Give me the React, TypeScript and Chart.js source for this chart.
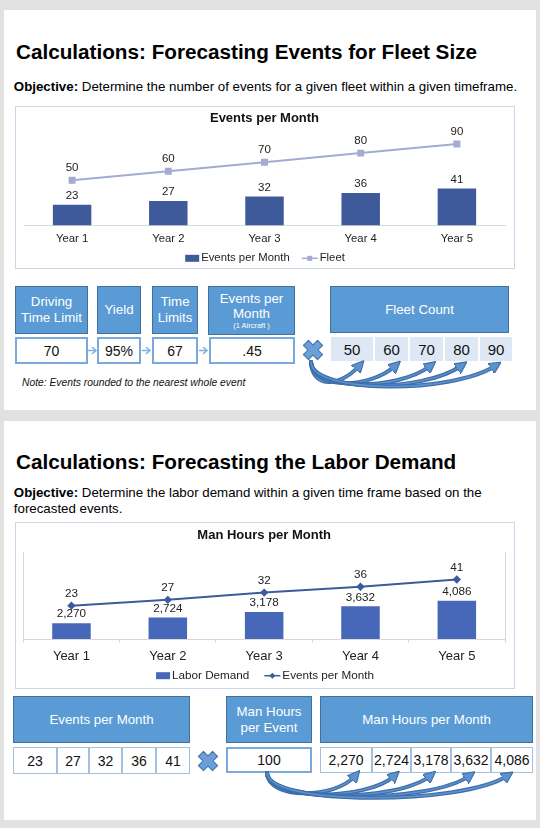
import React, { useEffect, useRef } from 'react';
import { Chart, registerables } from 'chart.js';

Chart.register(...registerables);

const FONT = '"Liberation Sans", Arial, Helvetica, sans-serif';

// ---------------- data ----------------
const years = ['Year 1', 'Year 2', 'Year 3', 'Year 4', 'Year 5'];
const eventsPerMonth = [23, 27, 32, 36, 41];
const fleetSize = [50, 60, 70, 80, 90];
const laborDemand = [2270, 2724, 3178, 3632, 4086];
const drivingTimeLimit = '70';
const yieldPct = '95%';
const timeLimits = '67';
const eventsPerAircraft = '.45';
const manHoursPerEvent = '100';

const fmt = (v: number) => v.toLocaleString('en-US');

// ---------------- plugins ----------------
const valueLabelPlugin = {
  id: 'valueLabels',
  afterDatasetsDraw(chart: any) {
    const ctx = chart.ctx;
    chart.data.datasets.forEach((ds: any, i: number) => {
      const meta = chart.getDatasetMeta(i);
      const o = ds.valueLabel;
      if (!o || meta.hidden) return;
      ctx.save();
      ctx.font = `${o.size}px ${FONT}`;
      ctx.fillStyle = '#222';
      ctx.textAlign = 'center';
      ctx.textBaseline = 'middle';
      meta.data.forEach((el: any, j: number) => {
        ctx.fillText(fmt(ds.data[j]), el.x, el.y - o.offset);
      });
      ctx.restore();
    });
  },
};

type LegendItem = { kind: 'bar' | 'line'; color: string; text: string; marker?: 'rect' | 'diamond' };

function makeLegendPlugin(items: LegendItem[], centerY: number, size: number, itemGap: number) {
  return {
    id: 'swatchLegend',
    afterDraw(chart: any) {
      const ctx = chart.ctx;
      ctx.save();
      ctx.font = `${size}px ${FONT}`;
      const parts = items.map((it) => ({ it, sw: it.kind === 'bar' ? 14 : 16, tw: ctx.measureText(it.text).width }));
      const gap = 2;
      const total = parts.reduce((s, p) => s + p.sw + gap + p.tw, 0) + itemGap * (parts.length - 1);
      let x = chart.width / 2 - total / 2;
      parts.forEach(({ it, sw, tw }) => {
        if (it.kind === 'bar') {
          ctx.fillStyle = it.color;
          ctx.fillRect(x, centerY - 3.5, sw, 7);
        } else {
          ctx.strokeStyle = it.color;
          ctx.lineWidth = 1.5;
          ctx.beginPath();
          ctx.moveTo(x, centerY);
          ctx.lineTo(x + sw, centerY);
          ctx.stroke();
          ctx.fillStyle = it.color;
          const cx = x + sw / 2;
          if (it.marker === 'rect') {
            ctx.fillRect(cx - 2.5, centerY - 2.5, 5, 5);
          } else {
            ctx.beginPath();
            ctx.moveTo(cx, centerY - 3);
            ctx.lineTo(cx + 3, centerY);
            ctx.lineTo(cx, centerY + 3);
            ctx.lineTo(cx - 3, centerY);
            ctx.closePath();
            ctx.fill();
          }
        }
        ctx.fillStyle = '#222';
        ctx.textAlign = 'left';
        ctx.textBaseline = 'middle';
        ctx.fillText(it.text, x + sw + gap, centerY);
        x += sw + gap + tw + itemGap;
      });
      ctx.restore();
    },
  };
}

// ---------------- chart configs ----------------
function fleetChartConfig(): any {
  return {
    type: 'bar',
    data: {
      labels: years,
      datasets: [
        {
          type: 'line',
          label: 'Fleet',
          data: fleetSize,
          borderColor: '#a3abd2',
          backgroundColor: '#a3abd2',
          borderWidth: 2,
          pointStyle: 'rect',
          pointRadius: 3.5,
          pointHoverRadius: 3.5,
          order: 0,
          valueLabel: { offset: 12, size: 11.5 },
        },
        {
          type: 'bar',
          label: 'Events per Month',
          data: eventsPerMonth,
          backgroundColor: '#3f5a9b',
          barPercentage: 0.4,
          categoryPercentage: 1,
          order: 1,
          valueLabel: { offset: 9, size: 11.5 },
        },
      ],
    },
    options: {
      animation: false,
      responsive: false,
      events: [],
      layout: { padding: { left: 8, right: 9, top: 0, bottom: 15.9 } },
      plugins: {
        legend: { display: false },
        tooltip: { enabled: false },
        title: {
          display: true,
          text: 'Events per Month',
          color: '#111',
          font: { family: FONT, size: 13, weight: 'bold' },
          padding: { top: 3.5, bottom: 8.9 },
        },
      },
      scales: {
        x: {
          grid: { display: false, drawTicks: false },
          border: { display: true, color: '#d9d9d9', width: 1 },
          ticks: { color: '#222', font: { family: FONT, size: 11.3 }, padding: 6.5 },
        },
        y: { display: false, min: 0, max: 100 },
      },
    },
    plugins: [
      valueLabelPlugin,
      makeLegendPlugin(
        [
          { kind: 'bar', color: '#3f5a9b', text: 'Events per Month' },
          { kind: 'line', color: '#a3abd2', text: 'Fleet', marker: 'rect' },
        ],
        151.3,
        11.3,
        12
      ),
    ],
  };
}

function laborChartConfig(): any {
  return {
    type: 'bar',
    data: {
      labels: years,
      datasets: [
        {
          type: 'line',
          label: 'Events per Month',
          data: eventsPerMonth,
          yAxisID: 'y1',
          borderColor: '#3d5b9a',
          backgroundColor: '#3d5b9a',
          borderWidth: 2,
          pointStyle: 'rectRot',
          pointRadius: 2.8,
          pointHoverRadius: 2.8,
          order: 0,
          valueLabel: { offset: 11.7, size: 11.7 },
        },
        {
          type: 'bar',
          label: 'Labor Demand',
          data: laborDemand,
          yAxisID: 'y',
          backgroundColor: '#4768b8',
          barPercentage: 0.4,
          categoryPercentage: 1,
          order: 1,
          valueLabel: { offset: 9, size: 11.7 },
        },
      ],
    },
    options: {
      animation: false,
      responsive: false,
      events: [],
      layout: { padding: { left: 7.3, right: 9, top: 0, bottom: 18.4 } },
      plugins: {
        legend: { display: false },
        tooltip: { enabled: false },
        title: {
          display: true,
          text: 'Man Hours per Month',
          color: '#111',
          font: { family: FONT, size: 13, weight: 'bold' },
          padding: { top: 4.9, bottom: 8.5 },
        },
      },
      scales: {
        x: {
          grid: { display: true, drawOnChartArea: false, drawTicks: true, tickLength: 4, color: '#d9d9d9', offset: true },
          border: { display: true, color: '#d9d9d9', width: 1 },
          ticks: { color: '#222', font: { family: FONT, size: 13 }, padding: 5.5 },
        },
        y: {
          position: 'left',
          min: 1000,
          max: 8000,
          ticks: { display: false },
          grid: { display: false, drawTicks: false },
          border: { display: true, color: '#d9d9d9', width: 1 },
        },
        y1: {
          position: 'right',
          min: 0,
          max: 60,
          ticks: { display: false },
          grid: { display: false, drawTicks: false },
          border: { display: true, color: '#d9d9d9', width: 1 },
        },
      },
    },
    plugins: [
      valueLabelPlugin,
      makeLegendPlugin(
        [
          { kind: 'bar', color: '#4768b8', text: 'Labor Demand' },
          { kind: 'line', color: '#3d5b9a', text: 'Events per Month', marker: 'diamond' },
        ],
        152.7,
        11.7,
        15
      ),
    ],
  };
}

function ChartCanvas({ make, width, height }: { make: () => any; width: number; height: number }) {
  const ref = useRef<HTMLCanvasElement>(null);
  useEffect(() => {
    const chart = new Chart(ref.current as HTMLCanvasElement, make());
    return () => chart.destroy();
  }, []);
  return <canvas ref={ref} width={width} height={height} style={{ display: 'block', width, height }} />;
}

// ---------------- layout helpers ----------------
const abs = (x: number, y: number, w: number, h: number): React.CSSProperties => ({
  position: 'absolute',
  left: x,
  top: y,
  width: w,
  height: h,
  boxSizing: 'border-box',
});

function Header({ x, y, w, h, children }: { x: number; y: number; w: number; h: number; children: React.ReactNode }) {
  return (
    <div
      style={{
        ...abs(x, y, w, h),
        background: '#5b9bd5',
        border: '1.5px solid #41719c',
        color: '#fff',
        fontSize: 13.3,
        lineHeight: '16px',
        display: 'flex',
        flexDirection: 'column',
        alignItems: 'center',
        justifyContent: 'center',
        textAlign: 'center',
      }}
    >
      {children}
    </div>
  );
}

function ValueBox({ x, y, w, h, text }: { x: number; y: number; w: number; h: number; text: string }) {
  return (
    <div
      style={{
        ...abs(x, y, w, h),
        background: '#fff',
        border: '2px solid #7aa9db',
        color: '#111',
        fontSize: 14,
        display: 'flex',
        alignItems: 'center',
        justifyContent: 'center',
      }}
    >
      {text}
    </div>
  );
}

function CellRow({ edges, y, h, values, fill, border, fontSize }: { edges: number[]; y: number; h: number; values: string[]; fill: string; border: string; fontSize: number }) {
  return (
    <>
      {values.map((v, i) => (
        <div
          key={i}
          style={{
            ...abs(edges[i], y, edges[i + 1] - edges[i], h),
            background: fill,
            border: border,
            color: '#111',
            fontSize,
            display: 'flex',
            alignItems: 'center',
            justifyContent: 'center',
          }}
        >
          {v}
        </div>
      ))}
    </>
  );
}

function Cross({ cx, cy }: { cx: number; cy: number }) {
  const w = 3.6;
  const L = 10;
  const pts = [
    [-w, -L], [w, -L], [w, -w], [L, -w], [L, w], [w, w], [w, L], [-w, L], [-w, w], [-L, w], [-L, -w], [-w, -w],
  ]
    .map((p) => p.join(','))
    .join(' ');
  return (
    <polygon
      points={pts}
      transform={`translate(${cx},${cy}) rotate(45)`}
      fill="#6a9fd8"
      stroke="#3f6fa9"
      strokeWidth={1}
      strokeLinejoin="round"
    />
  );
}

function Chevron({ cx, cy }: { cx: number; cy: number }) {
  return (
    <g stroke="#7db0e0" strokeWidth={1.6} fill="none" strokeLinecap="round" strokeLinejoin="round">
      <line x1={cx - 4} y1={cy} x2={cx + 3} y2={cy} />
      <polyline points={`${cx},${cy - 3} ${cx + 3.5},${cy} ${cx},${cy + 3}`} />
    </g>
  );
}

function Swooshes({ sx, sy, tips, depth }: { sx: number; sy: number; tips: [number, number][]; depth: number }) {
  return (
    <g>
      {tips.map(([tx, ty], i) => {
        const d1 = depth + i * 1.5;
        const k = 20 + i * 6;
        const path = `M ${sx} ${sy} C ${sx + 1} ${sy + d1}, ${tx - k} ${ty + d1 - 4}, ${tx} ${ty}`;
        return (
          <g key={i}>
            <path d={path} fill="none" stroke="#3f6fa9" strokeWidth={4} strokeLinecap="round" markerEnd="url(#ahead)" />
            <path d={path} fill="none" stroke="#5d91cf" strokeWidth={1.5} strokeLinecap="round" />
          </g>
        );
      })}
    </g>
  );
}

// ---------------- app ----------------
export default function App() {
  useEffect(() => {
    document.body.style.margin = '0';
  }, []);

  const fleetEdges = [330, 374, 409, 444, 479, 513];
  const eventEdges = [13, 57, 89, 122, 156, 190];
  const manHourEdges = [320, 372, 411, 451, 491, 533];

  return (
    <div
      style={{
        position: 'absolute',
        left: 0,
        top: 0,
        width: 540,
        height: 828,
        background: '#e1e1e1',
        overflow: 'hidden',
        fontFamily: FONT,
        color: '#000',
      }}
    >
      {/* panels */}
      <div style={{ ...abs(4, 10, 532, 400), background: '#fff' }} />
      <div style={{ ...abs(4, 421, 532, 399), background: '#fff' }} />

      {/* ---------- panel 1 ---------- */}
      <div style={{ position: 'absolute', left: 16, top: 39.5, fontSize: 20.7, fontWeight: 'bold', lineHeight: '24px', whiteSpace: 'nowrap' }}>
        Calculations: Forecasting Events for Fleet Size
      </div>
      <div style={{ position: 'absolute', left: 13.8, top: 79.3, fontSize: 13.3, lineHeight: '16px', whiteSpace: 'nowrap' }}>
        <b>Objective:</b> Determine the number of events for a given fleet within a given timeframe.
      </div>
      <div style={{ ...abs(15, 106, 500, 163), border: '1px solid #c9d7e8', background: '#fff' }}>
        <ChartCanvas make={fleetChartConfig} width={498} height={161} />
      </div>

      <Header x={15} y={286} w={73} h={48}>
        <div>Driving</div>
        <div>Time Limit</div>
      </Header>
      <Header x={97} y={286} w={44} h={48}>
        <div>Yield</div>
      </Header>
      <Header x={152} y={286} w={46} h={48}>
        <div>Time</div>
        <div>Limits</div>
      </Header>
      <Header x={208} y={286} w={87} h={49}>
        <div style={{ lineHeight: '15px' }}>Events per</div>
        <div style={{ lineHeight: '15px' }}>Month</div>
        <div style={{ fontSize: 7.5, lineHeight: '10px' }}>(1 Aircraft )</div>
      </Header>
      <Header x={330} y={286} w={179} h={47}>
        <div>Fleet Count</div>
      </Header>

      <ValueBox x={15} y={337} w={73} h={27} text={drivingTimeLimit} />
      <ValueBox x={97} y={337} w={44} h={27} text={yieldPct} />
      <ValueBox x={152} y={337} w={46} h={27} text={timeLimits} />
      <ValueBox x={209} y={337} w={86} h={27} text={eventsPerAircraft} />

      <CellRow edges={fleetEdges} y={336} h={26} values={fleetSize.map(fmt)} fill="#dee8f4" border="1px solid #fff" fontSize={15} />

      <div style={{ position: 'absolute', left: 22, top: 377, fontSize: 10.3, fontStyle: 'italic', lineHeight: '12px', whiteSpace: 'nowrap', color: '#111' }}>
        Note: Events rounded to the nearest whole event
      </div>

      {/* ---------- panel 2 ---------- */}
      <div style={{ position: 'absolute', left: 16, top: 449.7, fontSize: 20.7, fontWeight: 'bold', lineHeight: '24px', whiteSpace: 'nowrap' }}>
        Calculations: Forecasting the Labor Demand
      </div>
      <div style={{ position: 'absolute', left: 13.8, top: 485.3, fontSize: 13.3, lineHeight: '16px', whiteSpace: 'nowrap' }}>
        <b>Objective:</b> Determine the labor demand within a given time frame based on the
        <br />
        forecasted events.
      </div>
      <div style={{ ...abs(15, 522, 500, 167), border: '1px solid #c9d7e8', background: '#fff' }}>
        <ChartCanvas make={laborChartConfig} width={498} height={165} />
      </div>

      <Header x={13} y={696} w={177} h={47}>
        <div>Events per Month</div>
      </Header>
      <Header x={226} y={696} w={86} h={47}>
        <div>Man Hours</div>
        <div>per Event</div>
      </Header>
      <Header x={320} y={696} w={213} h={47}>
        <div>Man Hours per Month</div>
      </Header>

      <CellRow edges={eventEdges} y={747} h={27} values={eventsPerMonth.map(fmt)} fill="#fff" border="1.5px solid #a3c0e3" fontSize={14} />
      <ValueBox x={226} y={747} w={86} h={26} text={manHoursPerEvent} />
      <CellRow edges={manHourEdges} y={747} h={26} values={laborDemand.map(fmt)} fill="#fff" border="1.5px solid #a3c0e3" fontSize={14} />

      {/* decorations */}
      <svg width={540} height={828} style={{ position: 'absolute', left: 0, top: 0, pointerEvents: 'none' }}>
        <defs>
          <marker id="ahead" viewBox="0 0 10 10" refX="4" refY="5" markerWidth="3" markerHeight="3" orient="auto">
            <path d="M0,0 L10,5 L0,10 z" fill="#5d91cf" stroke="#3f6fa9" strokeWidth={1} />
          </marker>
        </defs>
        <Chevron cx={92.5} cy={350.5} />
        <Chevron cx={146.5} cy={350.5} />
        <Chevron cx={203.5} cy={350.5} />
        <Cross cx={313} cy={350} />
        <Cross cx={208} cy={761} />
        <Swooshes
          sx={311}
          sy={362}
          depth={26}
          tips={[
            [359, 366],
            [395, 366],
            [430, 366],
            [461, 366],
            [495, 366],
          ]}
        />
        <Swooshes
          sx={267}
          sy={773}
          depth={27}
          tips={[
            [355, 776],
            [394, 776],
            [430, 776],
            [469, 776],
            [507, 776],
          ]}
        />
      </svg>
    </div>
  );
}
